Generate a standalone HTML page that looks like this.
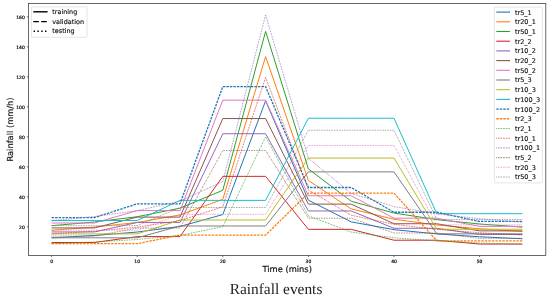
<!DOCTYPE html>
<html><head><meta charset="utf-8"><title>Rainfall events</title>
<style>html,body{margin:0;padding:0;background:#fff}body{width:550px;height:298px;overflow:hidden}</style>
</head><body>
<svg width="550" height="298" viewBox="0 0 550 298" style="display:block" text-rendering="geometricPrecision">
<rect width="550" height="298" fill="#fff"/>
<g fill="none" stroke-linejoin="round" clip-path="none">
<polyline points="51.60,237.85 94.40,235.49 137.20,232.06 180.00,226.44 222.80,214.59 265.60,100.85 308.40,200.19 351.20,221.87 394.00,229.65 436.80,233.95 479.60,236.76 522.40,238.78" stroke="#1f77b4" stroke-width="1.00" />
<polyline points="51.60,230.26 94.40,227.07 137.20,222.48 180.00,214.98 222.80,199.32 265.60,56.60 308.40,180.50 351.20,208.92 394.00,219.26 436.80,225.01 479.60,228.79 522.40,231.52" stroke="#ff7f0e" stroke-width="1.00" />
<polyline points="51.60,225.68 94.40,222.02 137.20,216.73 180.00,208.15 222.80,190.30 265.60,31.40 308.40,168.94 351.20,201.22 394.00,213.04 436.80,219.65 479.60,224.00 522.40,227.13" stroke="#2ca02c" stroke-width="1.00" />
<polyline points="51.60,242.47 94.40,242.47 137.20,236.59 180.00,236.59 222.80,176.35 265.60,176.35 308.40,229.35 351.20,229.35 394.00,240.21 436.80,240.21 479.60,244.05 522.40,244.05" stroke="#d62728" stroke-width="1.00" />
<polyline points="51.60,231.94 94.40,231.94 137.20,222.44 180.00,222.44 222.80,133.72 265.60,133.72 308.40,210.96 351.20,210.96 394.00,228.27 436.80,228.27 479.60,234.53 522.40,234.53" stroke="#9467bd" stroke-width="1.00" />
<polyline points="51.60,227.93 94.40,227.93 137.20,217.12 180.00,217.12 222.80,118.55 265.60,118.55 308.40,204.12 351.20,204.12 394.00,223.74 436.80,223.74 479.60,230.89 522.40,230.89" stroke="#8c564b" stroke-width="1.00" />
<polyline points="51.60,223.01 94.40,223.01 137.20,210.60 180.00,210.60 222.80,100.17 265.60,100.17 308.40,195.76 351.20,195.76 394.00,218.19 436.80,218.19 479.60,226.41 522.40,226.41" stroke="#e377c2" stroke-width="1.00" />
<polyline points="51.60,237.80 94.40,237.80 137.20,237.80 180.00,225.99 222.80,225.99 265.60,225.99 308.40,171.88 351.20,171.88 394.00,171.88 436.80,233.83 479.60,233.83 522.40,233.83" stroke="#7f7f7f" stroke-width="1.00" />
<polyline points="51.60,233.92 94.40,233.92 137.20,233.92 180.00,220.03 222.80,220.03 265.60,220.03 308.40,158.05 351.20,158.05 394.00,158.05 436.80,229.24 479.60,229.24 522.40,229.24" stroke="#bcbd22" stroke-width="1.00" />
<polyline points="51.60,220.54 94.40,220.54 137.20,220.54 180.00,200.38 222.80,200.38 265.60,200.38 308.40,118.23 351.20,118.23 394.00,118.23 436.80,213.68 479.60,213.68 522.40,213.68" stroke="#17becf" stroke-width="1.00" />
<polyline points="51.60,217.63 94.40,217.63 137.20,203.83 180.00,203.83 222.80,86.59 265.60,86.59 308.40,187.49 351.20,187.49 394.00,212.26 436.80,212.26 479.60,221.45 522.40,221.45" stroke="#1f77b4" stroke-width="1.30" stroke-dasharray="2.45 1.05"/>
<polyline points="51.60,243.68 94.40,243.68 137.20,243.68 180.00,235.08 222.80,235.08 265.60,235.08 308.40,193.12 351.20,193.12 394.00,193.12 436.80,240.81 479.60,240.81 522.40,240.81" stroke="#ff7f0e" stroke-width="1.30" stroke-dasharray="2.45 1.05"/>
<polyline points="51.60,243.71 94.40,242.01 137.20,239.52 180.00,235.42 222.80,226.65 265.60,136.85 308.40,215.85 351.20,232.05 394.00,237.77 436.80,240.90 479.60,242.93 522.40,244.38" stroke="#2ca02c" stroke-width="1.00" stroke-dasharray="0.65 1.0"/>
<polyline points="51.60,233.97 94.40,231.19 137.20,227.15 180.00,220.56 222.80,206.72 265.60,77.45 308.40,189.99 351.20,215.21 394.00,224.32 436.80,229.38 479.60,232.70 522.40,235.08" stroke="#d62728" stroke-width="1.00" stroke-dasharray="0.65 1.0"/>
<polyline points="51.60,220.63 94.40,216.53 137.20,210.64 180.00,201.12 222.80,181.50 265.60,14.90 308.40,158.29 351.20,193.48 394.00,206.54 436.80,213.88 479.60,218.74 522.40,222.26" stroke="#9467bd" stroke-width="1.00" stroke-dasharray="0.65 1.0"/>
<polyline points="51.60,236.12 94.40,236.12 137.20,228.05 180.00,228.05 222.80,150.52 265.60,150.52 308.40,218.23 351.20,218.23 394.00,233.01 436.80,233.01 479.60,238.31 522.40,238.31" stroke="#8c564b" stroke-width="1.00" stroke-dasharray="0.65 1.0"/>
<polyline points="51.60,230.19 94.40,230.19 137.20,230.19 180.00,214.39 222.80,214.39 265.60,214.39 308.40,145.47 351.20,145.47 394.00,145.47 436.80,224.85 479.60,224.85 522.40,224.85" stroke="#e377c2" stroke-width="1.00" stroke-dasharray="0.65 1.0"/>
<polyline points="51.60,225.60 94.40,225.60 137.20,225.60 180.00,207.47 222.80,207.47 265.60,207.47 308.40,130.21 351.20,130.21 394.00,130.21 436.80,219.47 479.60,219.47 522.40,219.47" stroke="#7f7f7f" stroke-width="1.00" stroke-dasharray="0.65 1.0"/>
</g>
<rect x="28.45" y="3.50" width="517.35" height="252.00" fill="none" stroke="#444" stroke-width="0.8"/>
<g stroke="#333" stroke-width="0.7">
<line x1="51.60" y1="255.50" x2="51.60" y2="257.10"/>
<line x1="137.20" y1="255.50" x2="137.20" y2="257.10"/>
<line x1="222.80" y1="255.50" x2="222.80" y2="257.10"/>
<line x1="308.40" y1="255.50" x2="308.40" y2="257.10"/>
<line x1="394.00" y1="255.50" x2="394.00" y2="257.10"/>
<line x1="479.60" y1="255.50" x2="479.60" y2="257.10"/>
<line x1="26.85" y1="226.85" x2="28.45" y2="226.85"/>
<line x1="26.85" y1="196.85" x2="28.45" y2="196.85"/>
<line x1="26.85" y1="166.85" x2="28.45" y2="166.85"/>
<line x1="26.85" y1="136.85" x2="28.45" y2="136.85"/>
<line x1="26.85" y1="106.85" x2="28.45" y2="106.85"/>
<line x1="26.85" y1="76.85" x2="28.45" y2="76.85"/>
<line x1="26.85" y1="46.85" x2="28.45" y2="46.85"/>
<line x1="26.85" y1="16.85" x2="28.45" y2="16.85"/>
</g>
<g font-family="'DejaVu Sans','Liberation Sans',sans-serif" font-size="4.5" fill="#111" stroke="#111" stroke-width="0.2">
<text x="51.60" y="263.00" text-anchor="middle">0</text>
<text x="137.20" y="263.00" text-anchor="middle">10</text>
<text x="222.80" y="263.00" text-anchor="middle">20</text>
<text x="308.40" y="263.00" text-anchor="middle">30</text>
<text x="394.00" y="263.00" text-anchor="middle">40</text>
<text x="479.60" y="263.00" text-anchor="middle">50</text>
<text x="24.85" y="228.75" text-anchor="end">20</text>
<text x="24.85" y="198.75" text-anchor="end">40</text>
<text x="24.85" y="168.75" text-anchor="end">60</text>
<text x="24.85" y="138.75" text-anchor="end">80</text>
<text x="24.85" y="108.75" text-anchor="end">100</text>
<text x="24.85" y="78.75" text-anchor="end">120</text>
<text x="24.85" y="48.75" text-anchor="end">140</text>
<text x="24.85" y="18.75" text-anchor="end">160</text>
</g>
<g font-family="'DejaVu Sans','Liberation Sans',sans-serif" font-size="8.3" fill="#111" stroke="#111" stroke-width="0.18">
<text x="287.2" y="271.8" text-anchor="middle">Time (mins)</text>
<text transform="translate(12.6,129.5) rotate(-90)" text-anchor="middle">Rainfall (mm/h)</text>
</g>
<rect x="31.4" y="6.8" width="55.6" height="30.5" rx="1.2" fill="#fff" fill-opacity="0.8" stroke="#ccc" stroke-opacity="0.85" stroke-width="0.6"/>
<g stroke="#000" stroke-width="1.4" fill="none">
<line x1="33.3" y1="11.8" x2="47.6" y2="11.8"/>
<line x1="33.3" y1="21.6" x2="47.6" y2="21.6" stroke-dasharray="5.6 2.3"/>
<line x1="33.6" y1="31.2" x2="47.6" y2="31.2" stroke-dasharray="1.45 2.35"/>
</g>
<g font-family="'DejaVu Sans','Liberation Sans',sans-serif" font-size="6.45" fill="#111" stroke="#111" stroke-width="0.15">
<text x="52.3" y="14.25">training</text>
<text x="52.3" y="23.85">validation</text>
<text x="52.3" y="33.45">testing</text>
</g>
<rect x="494.4" y="7.0" width="48.0" height="175.9" rx="1.2" fill="#fff" fill-opacity="0.8" stroke="#ccc" stroke-opacity="0.85" stroke-width="0.6"/>
<g fill="none">
<line x1="496.3" y1="12.10" x2="510.0" y2="12.10" stroke="#1f77b4" stroke-width="1.10" />
<line x1="496.3" y1="21.80" x2="510.0" y2="21.80" stroke="#ff7f0e" stroke-width="1.10" />
<line x1="496.3" y1="31.50" x2="510.0" y2="31.50" stroke="#2ca02c" stroke-width="1.10" />
<line x1="496.3" y1="41.20" x2="510.0" y2="41.20" stroke="#d62728" stroke-width="1.10" />
<line x1="496.3" y1="50.90" x2="510.0" y2="50.90" stroke="#9467bd" stroke-width="1.10" />
<line x1="496.3" y1="60.60" x2="510.0" y2="60.60" stroke="#8c564b" stroke-width="1.10" />
<line x1="496.3" y1="70.30" x2="510.0" y2="70.30" stroke="#e377c2" stroke-width="1.10" />
<line x1="496.3" y1="80.00" x2="510.0" y2="80.00" stroke="#7f7f7f" stroke-width="1.10" />
<line x1="496.3" y1="89.70" x2="510.0" y2="89.70" stroke="#bcbd22" stroke-width="1.10" />
<line x1="496.3" y1="99.40" x2="510.0" y2="99.40" stroke="#17becf" stroke-width="1.10" />
<line x1="496.3" y1="109.10" x2="510.0" y2="109.10" stroke="#1f77b4" stroke-width="1.40" stroke-dasharray="2.45 1.05"/>
<line x1="496.3" y1="118.80" x2="510.0" y2="118.80" stroke="#ff7f0e" stroke-width="1.40" stroke-dasharray="2.45 1.05"/>
<line x1="496.3" y1="128.50" x2="510.0" y2="128.50" stroke="#2ca02c" stroke-width="1.10" stroke-dasharray="0.65 1.0"/>
<line x1="496.3" y1="138.20" x2="510.0" y2="138.20" stroke="#d62728" stroke-width="1.10" stroke-dasharray="0.65 1.0"/>
<line x1="496.3" y1="147.90" x2="510.0" y2="147.90" stroke="#9467bd" stroke-width="1.10" stroke-dasharray="0.65 1.0"/>
<line x1="496.3" y1="157.60" x2="510.0" y2="157.60" stroke="#8c564b" stroke-width="1.10" stroke-dasharray="0.65 1.0"/>
<line x1="496.3" y1="167.30" x2="510.0" y2="167.30" stroke="#e377c2" stroke-width="1.10" stroke-dasharray="0.65 1.0"/>
<line x1="496.3" y1="177.00" x2="510.0" y2="177.00" stroke="#7f7f7f" stroke-width="1.10" stroke-dasharray="0.65 1.0"/>
</g>
<g font-family="'DejaVu Sans','Liberation Sans',sans-serif" font-size="6.5" fill="#111" stroke="#111" stroke-width="0.15">
<text x="515.0" y="14.55">tr5_1</text>
<text x="515.0" y="24.25">tr20_1</text>
<text x="515.0" y="33.95">tr50_1</text>
<text x="515.0" y="43.65">tr2_2</text>
<text x="515.0" y="53.35">tr10_2</text>
<text x="515.0" y="63.05">tr20_2</text>
<text x="515.0" y="72.75">tr50_2</text>
<text x="515.0" y="82.45">tr5_3</text>
<text x="515.0" y="92.15">tr10_3</text>
<text x="515.0" y="101.85">tr100_3</text>
<text x="515.0" y="111.55">tr100_2</text>
<text x="515.0" y="121.25">tr2_3</text>
<text x="515.0" y="130.95">tr2_1</text>
<text x="515.0" y="140.65">tr10_1</text>
<text x="515.0" y="150.35">tr100_1</text>
<text x="515.0" y="160.05">tr5_2</text>
<text x="515.0" y="169.75">tr20_3</text>
<text x="515.0" y="179.45">tr50_3</text>
</g>
<text x="276" y="293.6" text-anchor="middle" font-family="'Liberation Serif','DejaVu Serif',serif" font-size="15.4" fill="#222">Rainfall events</text>
</svg>
</body></html>
